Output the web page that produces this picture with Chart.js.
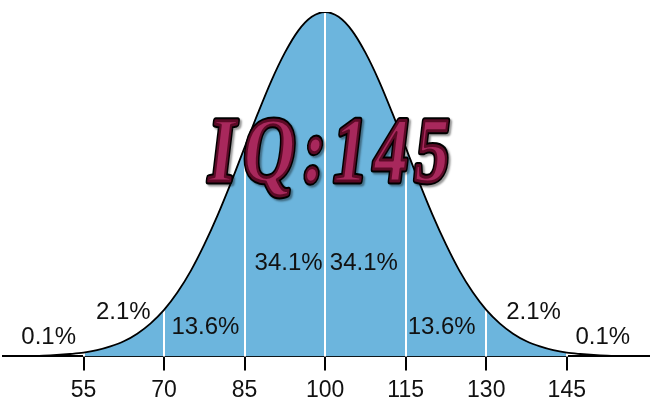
<!DOCTYPE html>
<html>
<head>
<meta charset="utf-8">
<script src="https://cdn.jsdelivr.net/npm/chart.js@4.4.1/dist/chart.umd.min.js"></script>
<style>
  html, body { margin: 0; padding: 0; background: #fff; }
  #wrap { width: 650px; height: 412px; }
</style>
</head>
<body>
<div id="wrap"><canvas id="iq" width="650" height="412"></canvas></div>
<script>
// IQ scores along the x axis and curve height (% of peak)
const iqValues = [
  40, 42.5, 45, 47.5, 50, 52.5, 55, 57.5, 60, 62.5, 65, 67.5, 70, 72.5, 75, 77.5,
  80, 82.5, 85, 87.5, 90, 92.5, 95, 97.5, 100, 102.5, 105, 107.5, 110, 112.5, 115,
  117.5, 120, 122.5, 125, 127.5, 130, 132.5, 135, 137.5, 140, 142.5, 145, 147.5,
  150, 152.5, 155, 157.5, 160
];
const curveHeights = [
  0, 0.1, 0.1, 0.2, 0.4, 0.7, 1.1, 1.8, 2.9, 4.4, 6.6, 9.6, 13.5, 18.6, 24.9, 32.5,
  41.1, 50.6, 60.7, 70.7, 80.1, 88.2, 94.6, 98.6, 100, 98.6, 94.6, 88.2, 80.1, 70.7, 60.7,
  50.6, 41.1, 32.5, 24.9, 18.6, 13.5, 9.6, 6.6, 4.4, 2.9, 1.8, 1.1, 0.7,
  0.4, 0.2, 0.1, 0.1, 0
];
const tickValues = [55, 70, 85, 100, 115, 130, 145];
const sigmaLines = [55, 70, 85, 100, 115, 130, 145];
const shadedFrom = 55;
const shadedTo = 145;

const bandLabels = ["0.1%", "2.1%", "13.6%", "34.1%", "34.1%", "13.6%", "2.1%", "0.1%"];
const bandLabelX = [48.5, 62.4, 77.7, 93.2, 107.2, 121.7, 138.8, 151.7];
const bandLabelY = [5.6, 12.7, 8.4, 27, 27, 8.4, 12.7, 5.6];

const titleText = "IQ:145";

const curvePoints = iqValues.map((x, i) => ({ x, y: curveHeights[i] }));
const shadedPoints = curvePoints.filter((p) => p.x >= shadedFrom && p.x <= shadedTo);

function heightAt(x) {
  const i = iqValues.indexOf(x);
  return i >= 0 ? curveHeights[i] : 0;
}

const overlay = {
  id: "overlay",
  beforeDatasetDraw(chart, args) {
    if (args.index !== 0) return;
    // white dividers at each standard deviation, under the black curve
    const { ctx, scales } = chart;
    const x = scales.x, y = scales.y;
    ctx.save();
    ctx.strokeStyle = "#ffffff";
    ctx.lineWidth = 2;
    sigmaLines.forEach((v) => {
      const px = Math.round(x.getPixelForValue(v));
      ctx.beginPath();
      ctx.moveTo(px, y.getPixelForValue(0));
      ctx.lineTo(px, y.getPixelForValue(heightAt(v)));
      ctx.stroke();
    });
    ctx.restore();
  },
  afterDatasetsDraw(chart) {
    const { ctx, scales } = chart;
    const x = scales.x, y = scales.y;
    ctx.save();
    ctx.fillStyle = "#111111";
    ctx.font = '24px "Liberation Sans", Arial, sans-serif';
    ctx.textAlign = "center";
    ctx.textBaseline = "middle";
    bandLabels.forEach((t, i) => {
      ctx.fillText(t, x.getPixelForValue(bandLabelX[i]), y.getPixelForValue(bandLabelY[i]));
    });
    ctx.restore();

    // big "IQ:145" title, slightly slanted bold serif
    ctx.save();
    ctx.font = 'bold 92px "Liberation Serif", serif';
    ctx.letterSpacing = "10px";
    ctx.textBaseline = "alphabetic";
    ctx.textAlign = "left";
    const w = ctx.measureText(titleText).width - 10;
    ctx.translate(206, 181);
    ctx.transform(1, 0, -0.12, 1, 0, 0);
    ctx.scale(240 / w, 1);
    ctx.lineJoin = "round";
    ctx.shadowColor = "rgba(0,0,0,0.4)";
    ctx.shadowOffsetX = 2;
    ctx.shadowOffsetY = 2;
    ctx.shadowBlur = 2;
    ctx.strokeStyle = "#000000";
    ctx.lineWidth = 7;
    ctx.strokeText(titleText, 0, 0);
    ctx.shadowColor = "transparent";
    ctx.fillStyle = "#a8285c";
    ctx.fillText(titleText, 0, 0);
    ctx.strokeStyle = "#5c0a26";
    ctx.lineWidth = 3;
    ctx.strokeText(titleText, 0, 0);
    ctx.restore();
  }
};

new Chart(document.getElementById("iq"), {
  type: "line",
  data: {
    datasets: [
      {
        label: "curve",
        data: curvePoints,
        borderColor: "#000000",
        borderWidth: 1.8,
        fill: false,
        pointRadius: 0,
        cubicInterpolationMode: "monotone"
      },
      {
        label: "shaded",
        data: shadedPoints,
        borderWidth: 0,
        borderColor: "rgba(0,0,0,0)",
        backgroundColor: "#6cb5dd",
        fill: "origin",
        pointRadius: 0,
        cubicInterpolationMode: "monotone"
      }
    ]
  },
  options: {
    responsive: false,
    animation: false,
    layout: { padding: { left: 3, right: 0, top: 12, bottom: 2 } },
    plugins: { legend: { display: false }, tooltip: { enabled: false } },
    scales: {
      x: {
        type: "linear",
        min: 40,
        max: 160.5,
        z: 1,
        border: { display: true, color: "#000000", width: 2 },
        grid: { drawOnChartArea: false, drawTicks: true, tickLength: 14, color: "#000000", lineWidth: 2 },
        ticks: {
          color: "#111111",
          padding: 6,
          autoSkip: false,
          maxRotation: 0,
          font: { family: '"Liberation Sans", Arial, sans-serif', size: 23 }
        },
        afterBuildTicks(scale) {
          scale.ticks = tickValues.map((v) => ({ value: v }));
        }
      },
      y: { display: false, min: 0, max: 100 }
    }
  },
  plugins: [overlay]
});
</script>
</body>
</html>
